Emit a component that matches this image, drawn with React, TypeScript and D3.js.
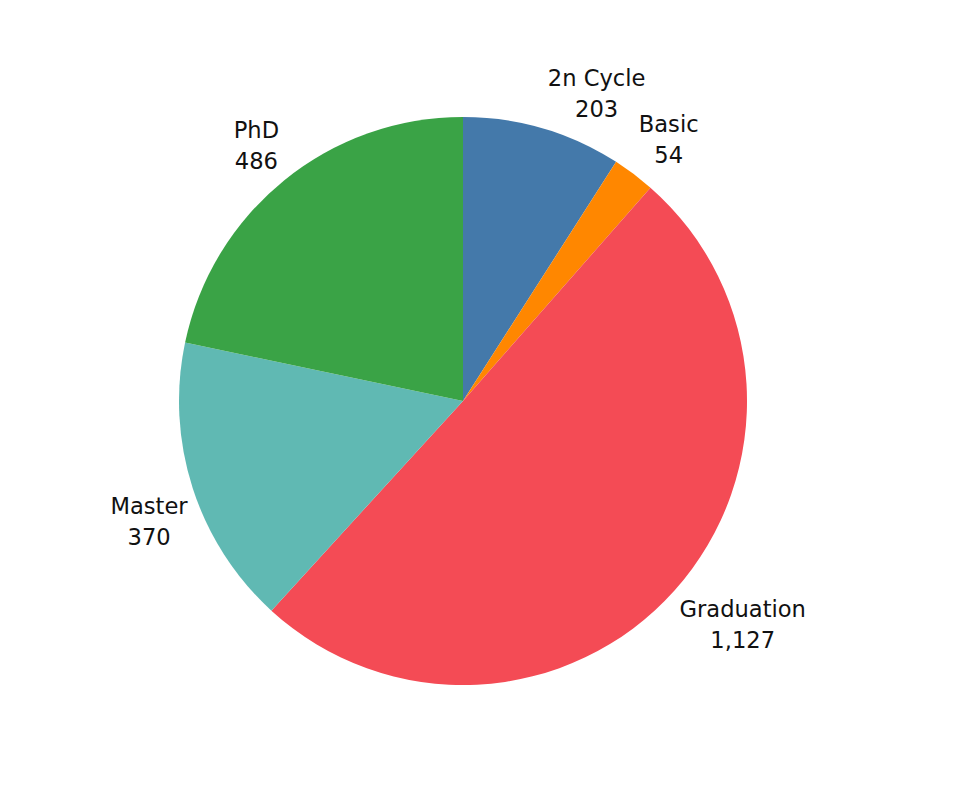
import React from "react";
import * as d3 from "d3";

const categories = ["2n Cycle", "Basic", "Graduation", "Master", "PhD"];
const values = [203, 54, 1127, 370, 486];
const colors = ["#4479aa", "#ff8700", "#f44b55", "#60b9b3", "#3aa346"];

const W = 958;
const H = 806;
const CX = 463;
const CY = 401;
const R = 284;
const FONT = 22.6;
const LINE = 31;
const FONT_FAMILY = "DejaVu Sans, sans-serif";

let ctx: CanvasRenderingContext2D | null = null;
function measure(s: string): number {
  if (typeof document !== "undefined") {
    if (!ctx) ctx = document.createElement("canvas").getContext("2d");
    if (ctx) {
      ctx.font = `${FONT}px ${FONT_FAMILY}`;
      return ctx.measureText(s).width;
    }
  }
  return s.length * FONT * 0.58;
}

export default function App() {
  const data = categories.map((c, i) => ({ name: c, value: values[i], color: colors[i] }));
  const pie = d3.pie<any>().value((d) => d.value).sort(null);
  const arcs = pie(data);
  const arc = d3.arc<any>().innerRadius(0).outerRadius(R);
  const fmt = d3.format(",");

  return (
    <svg width={W} height={H} style={{ position: "absolute", left: 0, top: 0, display: "block" }}>
      <rect width={W} height={H} fill="#fff" />
      <g transform={`translate(${CX},${CY})`}>
        {arcs.map((a, i) => (
          <path key={i} d={arc(a) as string} fill={a.data.color} />
        ))}
        {arcs.map((a, i) => {
          const mid = (a.startAngle + a.endAngle) / 2;
          const ex = Math.sin(mid) * R;
          const ey = -Math.cos(mid) * R;
          const w = Math.max(measure(a.data.name), measure(fmt(a.data.value)));
          const sx = ex >= 0 ? 1 : -1;
          const sy = ey >= 0 ? 1 : -1;
          const x = ex + sx * (5 + w / 2);
          const y = ey + sy * (8 + 26);
          return (
            <text
              key={"l" + i}
              textAnchor="middle"
              fontFamily={FONT_FAMILY}
              fontSize={FONT}
              fill="#111"
            >
              <tspan x={x} y={y - 8}>{a.data.name}</tspan>
              <tspan x={x} y={y - 8 + LINE}>{fmt(a.data.value)}</tspan>
            </text>
          );
        })}
      </g>
    </svg>
  );
}
